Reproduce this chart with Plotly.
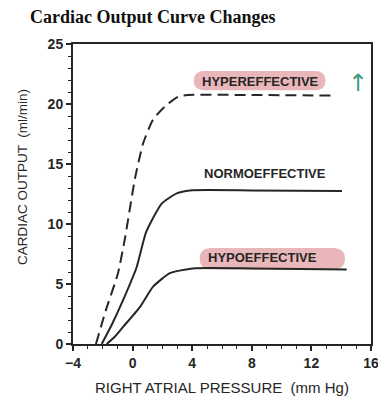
import plotly.graph_objects as go

# Data
hyper_x = [-2.46, -1.8, -0.98, -0.5, 0.16, 0.7, 1.37, 2.17, 3.05, 3.7, 8.0, 13.45]
hyper_y = [0.0, 2.8, 5.9, 8.9, 13.8, 16.7, 18.7, 19.8, 20.6, 20.75, 20.75, 20.7]

normo_x = [-2.07, -1.4, -0.73, 0.27, 0.9, 1.95, 2.96, 3.85, 8.0, 14.05]
normo_y = [0.0, 1.6, 3.4, 6.4, 9.3, 11.7, 12.55, 12.8, 12.8, 12.75]

hypo_x = [-1.74, -1.2, -0.62, 0.5, 1.39, 2.5, 4.05, 8.0, 14.37]
hypo_y = [0.0, 0.6, 1.45, 3.1, 4.8, 5.9, 6.3, 6.3, 6.2]

labels = ["HYPEREFFECTIVE", "NORMOEFFECTIVE", "HYPOEFFECTIVE"]
label_x = [8.6, 8.9, 8.7]
label_y = [21.85, 14.25, 7.25]

x_ticks = [-4, 0, 4, 8, 12, 16]
y_ticks = [0, 5, 10, 15, 20, 25]

INK = "#262626"
PINK = "#e9b6b9"
SANS = "Liberation Sans, Arial"

fig = go.Figure()


def pill(x0, x1, y0, y1):
    r = (y1 - y0) / 2
    rx = r * 0.9
    return (f"M {x0+rx},{y0} L {x1-rx},{y0} Q {x1},{y0} {x1},{y0+r} "
            f"Q {x1},{y1} {x1-rx},{y1} L {x0+rx},{y1} Q {x0},{y1} {x0},{y0+r} "
            f"Q {x0},{y0} {x0+rx},{y0} Z")


shapes = [
    dict(type="path", path=pill(4.1, 12.95, 21.15, 22.75), fillcolor=PINK,
         line=dict(width=0), layer="below"),
    dict(type="path", path=pill(4.5, 14.25, 6.2, 8.0), fillcolor=PINK,
         line=dict(width=0), layer="below"),
]

fig.add_trace(go.Scatter(x=hyper_x, y=hyper_y, mode="lines",
                         line=dict(color=INK, width=2, dash="11px,6px", shape="spline", smoothing=0.5),
                         showlegend=False, hoverinfo="skip"))
fig.add_trace(go.Scatter(x=normo_x, y=normo_y, mode="lines",
                         line=dict(color=INK, width=2, shape="spline", smoothing=0.5),
                         showlegend=False, hoverinfo="skip"))
fig.add_trace(go.Scatter(x=hypo_x, y=hypo_y, mode="lines",
                         line=dict(color=INK, width=2, shape="spline", smoothing=0.5),
                         showlegend=False, hoverinfo="skip"))

annotations = []
for t, x, y in zip(labels, label_x, label_y):
    annotations.append(dict(x=x, y=y, xref="x", yref="y", text=f"<b>{t}</b>",
                            showarrow=False,
                            font=dict(family="Liberation Sans Narrow, Arial Narrow, Liberation Sans, Arial",
                                      size=13, color=INK)))
annotations.append(dict(x=15.1, y=21.75, xref="x", yref="y", text="↑", showarrow=False,
                        font=dict(family="DejaVu Sans", size=24, color="#3f9c7f")))
# title and axis titles
annotations.append(dict(x=-0.151, y=1.09, xref="paper", yref="paper", xanchor="left", yanchor="middle",
                        text="<b>Cardiac Output Curve Changes</b>", showarrow=False,
                        font=dict(family="Liberation Serif, Times New Roman, serif", size=18, color="#111")))
annotations.append(dict(x=(222 - 73) / 298, y=-(387 - 344) / 300, xref="paper", yref="paper",
                        xanchor="center", yanchor="middle",
                        text="RIGHT ATRIAL PRESSURE  (mm Hg)", showarrow=False,
                        font=dict(family=SANS, size=15, color=INK)))
annotations.append(dict(x=-(73 - 22) / 298, y=(344 - 177) / 300, xref="paper", yref="paper",
                        xanchor="center", yanchor="middle", textangle=-90,
                        text="CARDIAC OUTPUT  (ml/min)", showarrow=False,
                        font=dict(family=SANS, size=13.5, color=INK)))

# the page adds an 8px body margin, so the figure is 8px smaller and shifted
fig.update_layout(
    width=378, height=409,
    margin=dict(l=65, r=15, t=36, b=73, autoexpand=False),
    paper_bgcolor="white", plot_bgcolor="white",
    shapes=shapes, annotations=annotations,
    xaxis=dict(range=[-4, 16], tickvals=x_ticks,
               ticktext=[f"<b>{str(v).replace('-', '−')}</b>" for v in x_ticks],
               automargin=False,
               showgrid=False, zeroline=False, showline=True, mirror=True,
               linecolor=INK, linewidth=2, ticks="outside", ticklen=5, tickwidth=1.5, tickcolor=INK,
               minor=dict(dtick=1, ticks="outside", ticklen=3, tickwidth=1, tickcolor=INK),
               tickfont=dict(family=SANS, size=14, color=INK)),
    yaxis=dict(range=[0, 25], tickvals=y_ticks,
               ticktext=[f"<b>{v}</b>" for v in y_ticks],
               automargin=False,
               showgrid=False, zeroline=False, showline=True, mirror=True,
               linecolor=INK, linewidth=2, ticks="outside", ticklen=5, tickwidth=1.5, tickcolor=INK,
               minor=dict(dtick=1, ticks="outside", ticklen=3, tickwidth=1, tickcolor=INK),
               tickfont=dict(family=SANS, size=14, color=INK)),
)

fig.write_html("out.html")
